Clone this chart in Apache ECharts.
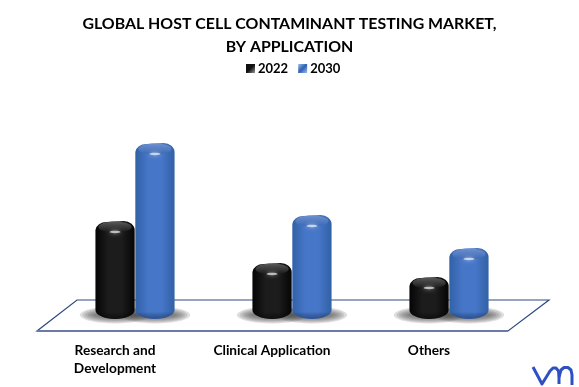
<!DOCTYPE html>
<html><head><meta charset="utf-8">
<style>html,body{margin:0;padding:0;background:#fff}#c{width:579px;height:387px}</style>
<script src="https://cdn.jsdelivr.net/npm/echarts@6/dist/echarts.min.js"></script>
</head><body><div id="c"></div>
<script>
const categories = ['Research and\nDevelopment', 'Clinical Application', 'Others'];
const seriesNames = ['2022', '2030'];
const values2022 = [4.9, 2.8, 2.1];
const values2030 = [8.8, 5.2, 3.55];
const palettes = [
  {edge:'#050505', mid:'#1c1c1c', capA:'#5a5a5a', capB:'#161616', low:'rgba(0,0,0,0.5)'},
  {edge:'#3261a6', mid:'#4676c8', capA:'#6d90cf', capB:'#3a68b4', low:'rgba(25,50,100,0.5)'}
];
function lg(x,y,x2,y2,stops){return {type:'linear',x,y,x2,y2,colorStops:stops.map((c,i)=>({offset:i/(stops.length-1),color:c}))};}
function renderCylinder(params, api){
  const p = palettes[params.seriesIndex];
  const band = api.size([1,0])[0];
  const w = band*0.25;
  const off = (params.seriesIndex===0?-1:1)*band*0.127;
  const top = api.coord([api.value(0), api.value(1)]);
  const base = api.coord([api.value(0), 0]);
  const cx = top[0]+off, l=cx-w/2, r=cx+w/2, t=top[1], b=base[1];
  const rx=w*0.28, ry=9;
  const d=`M${l} ${t+ry}A${rx} ${ry} 0 0 1 ${l+rx} ${t+1}L${r-rx} ${t}A${rx} ${ry} 0 0 1 ${r} ${t+ry}L${r} ${b-ry}A${w/2} ${ry} 0 0 1 ${l} ${b-ry}Z`;
  const clear='rgba(0,0,0,0)';
  const rim=1-7/(b-t);
  const soft=[];
  for(let k=0;k<6;k++){
    soft.push({type:'ellipse',z2:0,silent:true,
      shape:{cx:cx,cy:b-4,rx:w*(0.9-k*0.07),ry:8.5-k*1.1},
      style:{fill:'rgba(70,70,70,0.17)'}});
  }
  return {type:'group',children:soft.concat([
    {type:'path',z2:10,shape:{pathData:d},
      style:{fill:lg(0,0,1,0,[p.edge,p.mid,p.mid,p.edge])}},
    {type:'path',z2:11,silent:true,shape:{pathData:d},
      style:{fill:{type:'linear',x:0,y:0,x2:0,y2:1,colorStops:[{offset:0,color:clear},{offset:rim,color:clear},{offset:1,color:p.low}]}}},
    {type:'ellipse',z2:12,silent:true,shape:{cx:cx,cy:t+6,rx:w/2-3,ry:5.5},
      style:{fill:lg(0,0,0,1,[p.capA,p.capB])}},
    {type:'ellipse',z2:13,silent:true,shape:{cx:cx,cy:t+11,rx:5.5,ry:1.2},
      style:{fill:'rgba(255,255,255,0.65)',shadowBlur:4,shadowColor:'rgba(255,255,255,0.8)'}}
  ])};
}
const chart = echarts.init(document.getElementById('c'),null,{renderer:'canvas'});
const font='Lato';
chart.setOption({
  animation:false,
  backgroundColor:'#fff',
  title:{text:'GLOBAL HOST CELL CONTAMINANT TESTING MARKET,\nBY APPLICATION',left:'center',top:7,
    textStyle:{fontFamily:font,fontWeight:'bold',fontSize:15.9,lineHeight:23,color:'#000'}},
  legend:{top:57,left:241,itemWidth:9,itemHeight:9,itemGap:10,
    textStyle:{fontFamily:font,fontWeight:'bold',fontSize:13,color:'#000',padding:[0,0,0,-2]},
    data:[
      {name:'2022',icon:'rect',itemStyle:{color:lg(0,0,1,1,['#111','#111','#999'])}},
      {name:'2030',icon:'rect',itemStyle:{color:lg(0,0,1,1,['#9cc0f0','#2f5fb0','#9cc0f0'])}}
    ]},
  grid:{left:56.5,width:471,top:119,height:200},
  xAxis:{type:'category',data:categories,axisLine:{show:false},axisTick:{show:false},
    axisLabel:{interval:0,margin:23,padding:[0,40,0,0],fontFamily:font,fontWeight:'bold',fontSize:13.7,lineHeight:18,color:'#000'}},
  yAxis:{type:'value',min:0,max:10,interval:2,show:false},
  graphic:[
    {type:'polygon',z:0,silent:true,shape:{points:[[77,300],[549,300],[508,331],[37,331]]},
      style:{fill:'#fff',stroke:'#2f4a80',lineWidth:1.2}},
    {type:'line',z:0,silent:true,shape:{x1:37,y1:331,x2:508,y2:331},style:{stroke:'#6b7ba5',lineWidth:2}},
    {type:'polyline',z:5,silent:true,shape:{points:[[533,367],[542,384],[550,371],[553,368],[556,368],[558.5,371],[559,377],[559,384]]},
      style:{fill:null,stroke:'#2f50c4',lineWidth:3,lineJoin:'round'}},
    {type:'polyline',z:5,silent:true,shape:{points:[[559,377],[561,370],[564,367.5],[568,367.5],[571,370],[572,375],[572,385]]},
      style:{fill:null,stroke:'#2f50c4',lineWidth:3,lineJoin:'round'}}
  ],
  series:[
    {name:seriesNames[0],type:'custom',renderItem:renderCylinder,encode:{x:0,y:1},itemStyle:{color:'#111'},
      data:categories.map((c,i)=>[i,values2022[i]])},
    {name:seriesNames[1],type:'custom',renderItem:renderCylinder,encode:{x:0,y:1},itemStyle:{color:'#4472c4'},
      data:categories.map((c,i)=>[i,values2030[i]])}
  ]
});
</script></body></html>
